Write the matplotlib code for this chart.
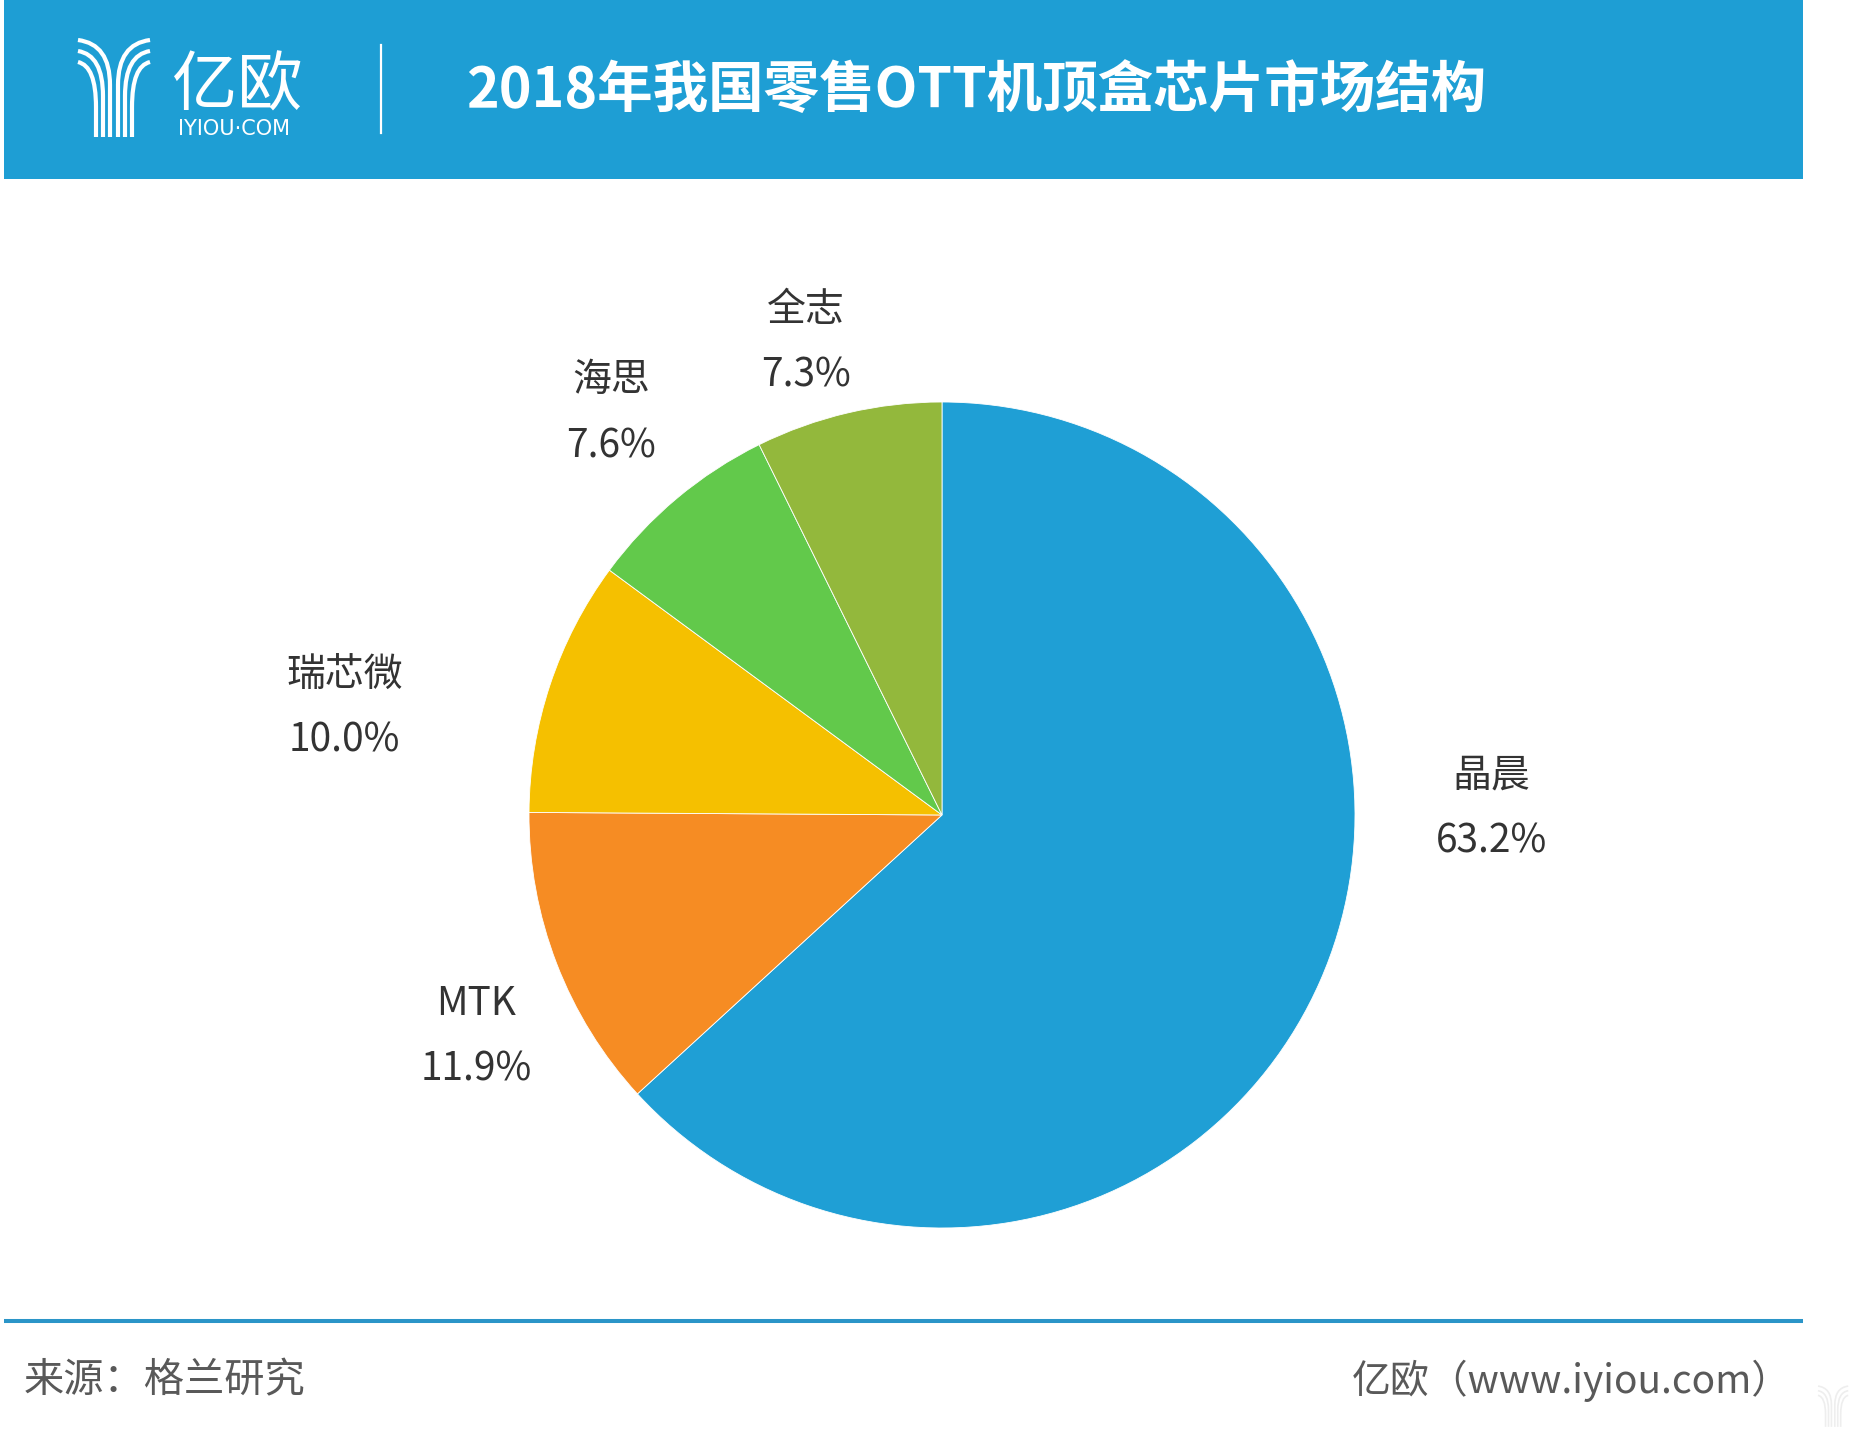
import numpy as np
import matplotlib
matplotlib.use('Agg')
import matplotlib.pyplot as plt
from matplotlib.patches import Rectangle, PathPatch
from matplotlib.path import Path

plt.rcParams['font.family'] = ['Noto Sans CJK SC', 'DejaVu Sans']

# 数据
names = ['晶晨', 'MTK', '瑞芯微', '海思', '全志']
shares = [63.2, 11.9, 10.0, 7.6, 7.3]
colors = ['#1F9FD5', '#F68C23', '#F5C000', '#62C94B', '#93B83C']

title = '2018年我国零售OTT机顶盒芯片市场结构'
source = '来源：格兰研究'
site = '亿欧（www.iyiou.com）'

# 标签位置微调(半径倍数, 角度偏移)
label_dist = [1.33, 1.25, 1.47, 1.26, 1.19]
label_shift = [24.4, 4.4, 8.2, -0.5, 2.9]

W, H = 1870, 1438
fig = plt.figure(figsize=(W / 100, H / 100), dpi=100)
ax = fig.add_axes([0, 0, 1, 1])


def Y(y_top):
    return H - y_top


def draw_logo(ax, x0, y0, s, color, lw):
    # 条纹状的 Y 字标志
    for j in range(3):
        yj = 5 + j * 11
        xl = 18 + (2 - j) * 7
        xr = 54 - (2 - j) * 7
        for side in (0, 1):
            if side == 0:
                p0 = (0, yj)
                p1 = (xl, yj + 4)
                p2 = (xl, yj + 45)
                p3 = (xl, 102)
            else:
                p0 = (72, yj)
                p1 = (xr, yj + 4)
                p2 = (xr, yj + 45)
                p3 = (xr, 102)
            pts = [(x0 + s * px, Y(y0 + s * py)) for px, py in (p0, p1, p2, p3)]
            path = Path(pts, [Path.MOVETO, Path.CURVE3, Path.CURVE3, Path.LINETO])
            ax.add_patch(PathPatch(path, fill=False, edgecolor=color,
                                   lw=lw, capstyle='butt'))


# 顶部蓝色标题栏
ax.add_patch(Rectangle((4, Y(179)), 1799, 179, facecolor='#1E9ED4', edgecolor='none'))
draw_logo(ax, 78, 35, 1.0, 'white', 3.0)
ax.text(172, Y(87), '亿欧', color='white', fontsize=47, fontweight='light',
        ha='left', va='center')
ax.text(178, Y(129), 'IYIOU·COM', color='white', fontsize=15,
        ha='left', va='center', family=['DejaVu Sans'])
ax.plot([381, 381], [Y(45), Y(133)], color='white', lw=1.6)
ax.text(976, Y(91), title, color='white', fontsize=40, fontweight='heavy',
        ha='center', va='center')

# 饼图
cx, cy, r = 942, Y(815), 413
wedges, _ = ax.pie(shares, colors=colors, startangle=90, counterclock=False,
                   center=(cx, cy), radius=r,
                   wedgeprops=dict(edgecolor='white', linewidth=0.6))

for w, name, val, k, sh in zip(wedges, names, shares, label_dist, label_shift):
    mid = np.deg2rad((w.theta1 + w.theta2) / 2 + sh)
    lx = cx + r * k * np.cos(mid)
    ly = cy + r * k * np.sin(mid)
    ax.text(lx, ly + 33, name, fontsize=28, fontweight='light', color='#333333',
            ha='center', va='center')
    ax.text(lx, ly - 33, f'{val:.1f}%', fontsize=28, fontweight='light',
            color='#333333', ha='center', va='center')

# 底部
ax.plot([4, 1803], [Y(1321), Y(1321)], color='#2B95C8', lw=2.9,
        solid_capstyle='butt')
ax.text(24, Y(1381), source, fontsize=29, color='#595959', ha='left', va='center')
ax.text(1791, Y(1381), site, fontsize=28, color='#595959', ha='right', va='center')
draw_logo(ax, 1818, 1384, 0.42, '#EEEEEE', 1.2)

ax.set_xlim(0, W)
ax.set_ylim(0, H)
ax.set_aspect('auto')
ax.axis('off')

fig.savefig('out.png', dpi=100, facecolor='white')
